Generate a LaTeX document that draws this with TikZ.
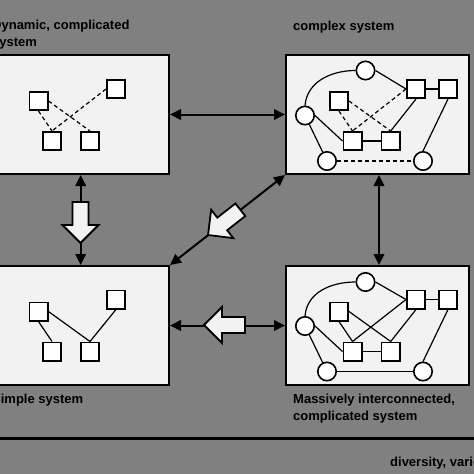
\documentclass[tikz,border=0pt]{standalone}
\usepackage{fontspec}
\setmainfont{Liberation Sans}
\usetikzlibrary{arrows.meta}
\definecolor{bg}{RGB}{128,128,128}
\definecolor{boxfill}{RGB}{242,242,242}
\begin{document}
\begin{tikzpicture}[x=1pt,y=-1pt,
  sysbox/.style={draw, line width=2pt, fill=boxfill, minimum width=183pt, minimum height=119pt, inner sep=0pt},
  sq/.style={draw, fill=white, line width=1.6pt, minimum size=18.4pt, inner sep=0pt},
  circ/.style={draw, fill=white, circle, line width=1.6pt, minimum size=18.4pt, inner sep=0pt},
  edge/.style={line width=1.2pt},
  dedge/.style={line width=1.2pt, dash pattern=on 4pt off 3pt},
  link/.style={line width=2pt, {Triangle[length=11pt,width=10.5pt]}-{Triangle[length=11pt,width=10.5pt]}},
  lbl/.style={font=\bfseries\fontsize{13}{16.5}\selectfont, inner sep=0pt, anchor=base west, align=left},
  blockarrow/.style={draw, line width=1.8pt, fill=boxfill, line join=miter}
]
\useasboundingbox (0,0) rectangle (474,474);
\clip (0,0) rectangle (474,474);
\fill[bg] (0,0) rectangle (474,474);

% system boxes
\node[sysbox] (tl) at (77.5,114.5) {};
\node[sysbox] (tr) at (377.5,114.5) {};
\node[sysbox] (bl) at (77.5,325.5) {};
\node[sysbox] (br) at (377.5,325.5) {};

% labels (base anchor = baseline of the last line)
\node[lbl] (lab1) at (-8,46) {Dynamic, complicated\\system};
\node[lbl] (lab2) at (293,30) {complex system};
\node[lbl] (lab3) at (-8,403.5) {Simple system};
\node[lbl] (lab4) at (293,420) {Massively interconnected,\\complicated system};
\node[lbl] (lab5) at (390,466.5) {diversity, variety};

% bottom rule
\coordinate (r1) at (-5,438.5);
\coordinate (r2) at (480,438.5);
\draw[line width=3pt] (r1) -- (r2);

% top-left: dynamic, complicated
\node[sq] (a1) at (38.5,101) {};
\node[sq] (b1) at (116,89) {};
\node[sq] (c1) at (52,141) {};
\node[sq] (d1) at (90,141) {};
\draw[dedge] (a1.south) -- (c1.north);
\draw[dedge] (a1.east) -- (d1.north);
\draw[dedge] (b1.west) -- (c1.north);

% bottom-left: simple
\node[sq] (a2) at (38.5,311.5) {};
\node[sq] (b2) at (116,299.5) {};
\node[sq] (c2) at (52,351.5) {};
\node[sq] (d2) at (90,351.5) {};
\draw[edge] (a2.south) -- (c2.north);
\draw[edge] (a2.east) -- (d2.north);
\draw[edge] (b2.south) -- (d2.north);

% top-right: complex
\node[sq] (s3) at (339,101) {};
\node[sq] (s1) at (416,89) {};
\node[sq] (s2) at (448,89) {};
\node[sq] (s4) at (352.5,141) {};
\node[sq] (s5) at (390.7,141) {};
\node[circ] (t) at (365.5,70.5) {};
\node[circ] (l) at (305,115.5) {};
\node[circ] (p) at (327,161) {};
\node[circ] (q) at (423,161) {};
\draw[edge] (l.north) .. controls +(2,-24) and +(-24,0) .. (t.west);
\draw[edge] (t.east) -- (s1.west);
\draw[edge] (s1) -- (s2);
\draw[edge] (s2.south) -- (q.north);
\draw[edge] (l.east) -- (s4.west);
\draw[edge] (l) -- (p);
\draw[dedge] (p) -- (q);
\draw[edge] (s4) -- (s5);
\draw[edge] (s5.north) -- (s1.south);
\draw[dedge] (s3.east) -- (s5.north);
\draw[dedge] (s3.south) -- (s4.north);
\draw[dedge] (s1.west) -- (s4.north);

% bottom-right: massively interconnected
\node[sq] (m3) at (339,311.5) {};
\node[sq] (m1) at (416,299.5) {};
\node[sq] (m2) at (448,299.5) {};
\node[sq] (m4) at (352.5,351.5) {};
\node[sq] (m5) at (390.7,351.5) {};
\node[circ] (mt) at (365.5,282) {};
\node[circ] (ml) at (305,326) {};
\node[circ] (mp) at (327,371.5) {};
\node[circ] (mq) at (423,371.5) {};
\draw[edge] (ml.north) .. controls +(2,-24) and +(-24,0) .. (mt.west);
\draw[edge] (mt.east) -- (m1.west);
\draw[edge] (m1) -- (m2);
\draw[edge] (m2.south) -- (mq.north);
\draw[edge] (ml.east) -- (m4.west);
\draw[edge] (ml) -- (mp);
\draw[edge] (mp) -- (mq);
\draw[edge] (m4) -- (m5);
\draw[edge] (m5.north) -- (m1.south);
\draw[edge] (m3.east) -- (m5.north);
\draw[edge] (m3.south) -- (m4.north);
\draw[edge] (m1.west) -- (m4.north);

% links between systems
\draw[link] (tl.east) -- (tr.west);
\draw[link] (bl.east) -- (br.west);
\draw[link] ([xshift=3.2pt]tl.south) -- ([xshift=3.2pt]bl.north);
\draw[link] ([xshift=1.5pt]tr.south) -- ([xshift=1.5pt]br.north);
\draw[link] (bl.north east) -- (tr.south west);

% block arrows
\draw[blockarrow, shift={(80.5,222.5)}, rotate=-90]
  (-20.5,-8) -- (2.5,-8) -- (2.5,-18) -- (20.5,0) -- (2.5,18) -- (2.5,8) -- (-20.5,8) -- cycle;
\draw[blockarrow, shift={(224.5,325)}, rotate=180]
  (-20.5,-8) -- (2.5,-8) -- (2.5,-18) -- (20.5,0) -- (2.5,18) -- (2.5,8) -- (-20.5,8) -- cycle;
\draw[blockarrow, shift={(224.2,222.4)}, rotate=218]
  (-20.5,-8) -- (2.5,-8) -- (2.5,-18) -- (20.5,0) -- (2.5,18) -- (2.5,8) -- (-20.5,8) -- cycle;
\end{tikzpicture}
\end{document}
